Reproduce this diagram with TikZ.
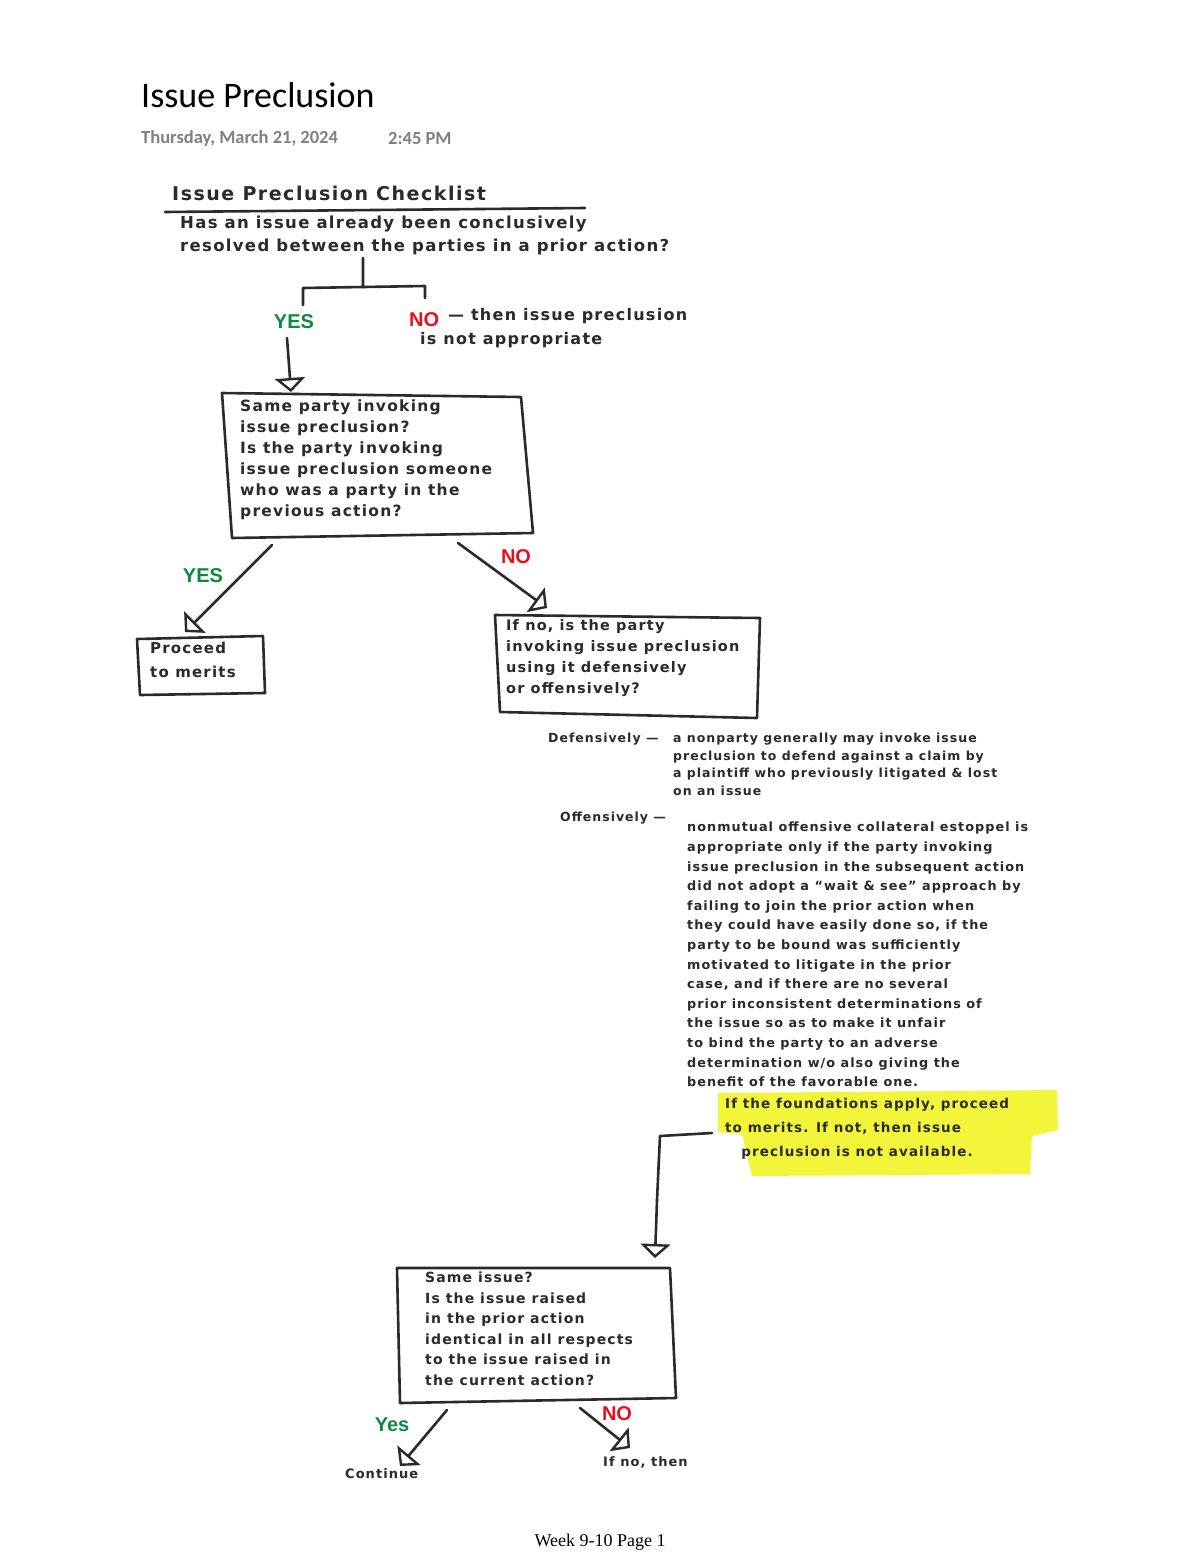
\documentclass[tikz,border=0pt]{standalone}
\usepackage{fontspec}
\setmainfont{Liberation Sans}
\newfontfamily\handfont[LetterSpace=8]{DejaVu Sans}
\newfontfamily\titlefont{Carlito}
\newfontfamily\footfont{Liberation Serif}
\usetikzlibrary{arrows.meta}
\definecolor{ink}{HTML}{2A2A2A}
\definecolor{yesgreen}{HTML}{0A8A3A}
\definecolor{nored}{HTML}{E8101E}
\definecolor{hl}{HTML}{F2F53A}
\newcommand{\hf}[2]{\handfont\bfseries\fontsize{#1}{#2}\selectfont}
\tikzset{
  hand/.style={font=\hf{16}{20}, text=ink, anchor=north west, align=left, inner sep=0pt},
  boxline/.style={draw=ink, line width=2.6pt, line join=round},
  conn/.style={draw=ink, line width=2.6pt, line cap=round, line join=round},
  openarrow/.style={conn, -{Triangle[open, length=14pt, width=30pt, line width=2.4pt]}},
  yes/.style={font=\bfseries\fontsize{20}{22}\selectfont, text=yesgreen, inner sep=0pt},
  no/.style={font=\bfseries\fontsize{20}{22}\selectfont, text=nored, inner sep=0pt},
}
\begin{document}
\begin{tikzpicture}[x=1pt,y=-1pt]
\useasboundingbox (0,0) rectangle (1200,1553);
\fill[white] (0,0) rectangle (1200,1553);
% header
\node[anchor=west, inner sep=0pt, font=\titlefont\fontsize{36}{40}\selectfont] (title) at (141,95) {Issue Preclusion};
\node[anchor=west, inner sep=0pt, text=gray, font=\titlefont\bfseries\fontsize{18.5}{20}\selectfont] (date) at (141,138) {Thursday, March 21, 2024};
\node[anchor=west, inner sep=0pt, text=gray, font=\titlefont\bfseries\fontsize{18.5}{20}\selectfont] (time) at (388,138) {2:45 PM};
% checklist heading
\node[hand, font=\hf{19}{22}] (head) at (172,186) {Issue Preclusion Checklist};
\draw[conn] (165,212) -- (585,208);
\node[hand, font=\hf{16.5}{23}] (q1) at (180,216) {Has an issue already been conclusively\\ resolved between the parties in a prior action?};
\coordinate (t0) at (363,258);
\coordinate (tl) at (303,305);
\coordinate (tr) at (425,298);
\draw[conn] (t0) -- (363,287) -- (303,288) -- (tl);
\draw[conn] (363,287) -- (425,286) -- (tr);
\node[yes] (yes1) at (294,322) {YES};
\node[no, anchor=west] (no1) at (409,320) {NO};
\node[hand, anchor=west, font=\hf{16}{20}] (no1t) at (448,316) {— then issue preclusion};
\node[hand, font=\hf{16}{20}] (no1t2) at (420,332) {is not appropriate};
% box 1
\draw[boxline] (222,393) -- (521,397) -- (533,533) -- (232,538) -- cycle;
\node[hand, font=\hf{15.5}{21}] (b1) at (240,400) {Same party invoking\\ issue preclusion?\\ Is the party invoking\\ issue preclusion someone\\ who was a party in the\\ previous action?};
\coordinate (a1) at (287,338);
\draw[openarrow] (a1) -- (291,392);
% yes / no from box 1
\draw[boxline] (137,639) -- (263,636) -- (265,693) -- (140,695) -- cycle;
\node[hand, font=\hf{15}{24}] (proceed) at (150,642) {Proceed\\ to merits};
\draw[openarrow] (272,545) -- (185,632);
\node[yes] (yes2) at (203,576) {YES};
\draw[openarrow] (458,543) -- (547,608);
\node[no] (no2) at (516,557) {NO};
% box 2
\draw[boxline] (495,615) -- (760,618) -- (757,718) -- (500,712) -- cycle;
\node[hand, font=\hf{14.5}{21}] (b2) at (506,619) {If no, is the party\\ invoking issue preclusion\\ using it defensively\\ or offensively?};
% defensively
\node[hand, font=\hf{12.5}{17.5}] (def) at (548,733) {Defensively —};
\node[hand, font=\hf{12.5}{17.5}] (deft) at (673,733) {a nonparty generally may invoke issue\\ preclusion to defend against a claim by\\ a plaintiff who previously litigated \& lost\\ on an issue};
% offensively
\node[hand, font=\hf{12.5}{17}] (off) at (560,812) {Offensively —};
\node[hand, font=\hf{12.8}{19.6}] (offt) at (687,822) {nonmutual offensive collateral estoppel is\\ appropriate only if the party invoking\\ issue preclusion in the subsequent action\\ did not adopt a “wait \& see” approach by\\ failing to join the prior action when\\ they could have easily done so, if the\\ party to be bound was sufficiently\\ motivated to litigate in the prior\\ case, and if there are no several\\ prior inconsistent determinations of\\ the issue so as to make it unfair\\ to bind the party to an adverse\\ determination w/o also giving the\\ benefit of the favorable one.};
% highlight
\fill[hl] (718,1093) -- (1057,1090) -- (1058,1130) -- (1032,1136) -- (1030,1174) -- (752,1176) -- (742,1134) -- (718,1132) -- cycle;
\node[hand, font=\hf{13.5}{24}] (hlt) at (725,1098) {If the foundations apply, proceed\\ to merits. If not, then issue\\ \hspace{1.2em}preclusion is not available.};
% connector to box 3
\coordinate (c0) at (712,1133);
\draw[conn] (c0) -- (660,1136) -- (657,1200);
\draw[openarrow] (657,1200) -- (655,1258);
% box 3
\draw[boxline] (397,1268) -- (670,1268) -- (676,1398) -- (400,1403) -- cycle;
\node[hand, font=\hf{14}{20.5}] (b3) at (425,1272) {Same issue?\\ Is the issue raised\\ in the prior action\\ identical in all respects\\ to the issue raised in\\ the current action?};
\draw[openarrow] (447,1410) -- (400,1466);
\node[yes] (yes3) at (392,1425) {Yes};
\node[hand, font=\hf{13}{16}] (cont) at (345,1468) {Continue};
\draw[openarrow] (580,1408) -- (630,1448);
\node[no] (no3) at (617,1414) {NO};
\node[hand, font=\hf{13}{16}] (ifno) at (603,1456) {If no, then};
% footer
\node[inner sep=0pt, font=\footfont\fontsize{18}{20}\selectfont] (foot) at (600,1542) {Week 9-10 Page 1};
\end{tikzpicture}
\end{document}
